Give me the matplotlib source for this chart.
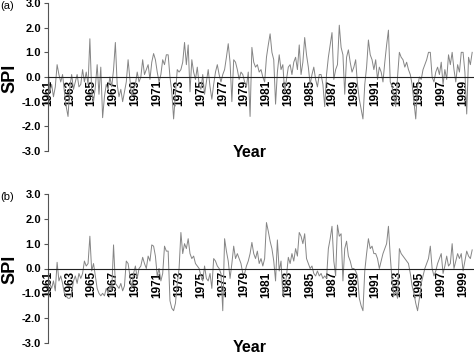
import numpy as np
import matplotlib
matplotlib.use("Agg")
import matplotlib.pyplot as plt

plt.rcParams['font.family'] = ['Liberation Sans', 'DejaVu Sans']

years = list(range(1961, 2000))
tick_years = list(range(1961, 2000, 2))
y_ticks = [3.0, 2.0, 1.0, 0.0, -1.0, -2.0, -3.0]

# SPI values, 6 per year (bi-monthly), panel (a)
spi_a = [
    0.4, -0.6, -0.3, -0.8, -0.4, 0.5,      # 1961
    0.1, -0.2, 0.1, -0.6, -1.2, -1.6,      # 1962
    -0.4, 0.1, -0.5, -0.2, 0.1, -0.4,      # 1963
    -0.3, 0.3, -0.2, 0.2, -0.3, 1.55,      # 1964
    -0.6, -1.0, -0.4, 0.5, -0.7, 0.4,      # 1965
    -1.65, -0.8, -0.3, -0.5, 0.0, -0.4,    # 1966
    0.3, 1.4, -0.3, -0.8, -0.5, -1.0,      # 1967
    -0.6, -0.2, 0.7, -0.1, -0.8, -0.5,     # 1968
    -0.3, 0.2, -0.2, 0.0, 0.7, 0.1,        # 1969
    0.3, 0.5, -0.1, 0.6, 0.95, 0.7,        # 1970
    0.2, -0.2, 0.1, 0.7, 0.5, 0.9,         # 1971
    0.9, 0.0, -0.6, -1.7, -0.7, 0.3,       # 1972
    0.2, 0.3, 0.6, 1.4, 0.5, 1.3,          # 1973
    -0.6, 0.7, 0.2, -0.1, 0.4, -0.3,       # 1974
    -0.5, 0.1, -0.7, -0.2, 0.3, -0.4,      # 1975
    -0.9, -0.3, 0.2, 0.5, 0.1, -0.2,       # 1976
    0.1, 0.3, 0.8, 1.35, 0.6, -1.0,        # 1977
    0.7, 0.6, 0.3, -0.1, 0.2, 0.1,         # 1978
    -0.2, -0.4, 0.2, -1.6, 1.2, 0.6,       # 1979
    0.4, 0.5, 0.2, 0.3, 0.0, -0.2,         # 1980
    0.8, 1.3, 1.75, 1.0, 0.7, -1.1,        # 1981
    0.2, 0.9, 0.3, 0.5, -0.6, -0.1,        # 1982
    0.4, 0.5, 0.1, 0.6, 0.8, 0.3,          # 1983
    1.3, 0.1, 0.6, 1.6, 0.9, 0.4,          # 1984
    -0.3, 0.1, 0.4, -0.1, -0.4, 0.1,       # 1985
    0.1, -0.3, -1.2, 0.1, 0.8, 1.3,        # 1986
    1.8, -0.1, 0.3, 0.5, 2.1, 1.2,         # 1987
    0.9, -0.7, 0.8, 1.1, 0.6, 0.2,         # 1988
    0.4, 0.7, -0.3, -0.9, -1.3, -1.7,      # 1989
    -0.3, 0.4, 1.5, 0.9, 0.7, 0.3,         # 1990
    0.7, -0.1, 0.4, 0.2, -0.2, 0.6,        # 1991
    1.3, 1.9, -0.2, -0.4, -0.8, -1.2,      # 1992
    0.0, 1.0, 0.8, 0.7, 0.4, 0.6,          # 1993
    0.3, 0.1, -0.3, -1.0, -1.7, -0.4,      # 1994
    0.0, -0.1, 0.3, 0.5, 0.7, 1.0,         # 1995
    1.0, 0.0, -0.2, 0.2, 0.4, 0.1,         # 1996
    0.6, -0.3, 0.3, -0.1, 0.9, 0.5,        # 1997
    1.0, 0.3, -0.2, 0.5, 0.2, 1.0,         # 1998
    1.0, 0.2, -1.5, 0.8, 0.5, 1.0,         # 1999
]

# SPI values, 6 per year (bi-monthly), panel (b)
spi_b = [
    -0.4, -0.6, -0.8, -0.5, -0.9, 0.25,    # 1961
    -0.5, -0.3, -0.6, -1.0, -1.1, -1.2,    # 1962
    -1.2, -1.0, -0.5, -0.3, -0.6, -0.2,    # 1963
    -0.4, -0.2, 0.3, 0.1, 0.2, 1.3,        # 1964
    -0.1, 0.2, -0.3, -0.8, -1.0, -1.1,     # 1965
    -1.0, -1.1, -0.8, -1.0, -0.7, -0.9,    # 1966
    0.95, -0.6, -0.7, -0.8, -0.6, -0.9,    # 1967
    -0.7, 0.3, 0.2, -0.3, -0.8, -0.2,      # 1968
    0.1, -0.4, 0.0, 0.1, 0.45, 0.2,        # 1969
    0.0, 0.5, 0.3, 0.95, 0.9, 0.5,         # 1970
    -0.3, 0.0, -0.5, -0.2, 0.9, 0.7,       # 1971
    0.7, -1.3, -1.6, -1.7, -1.4, -0.6,     # 1972
    0.0, 1.45, 0.6, 1.0, 0.8, 1.2,         # 1973
    0.6, 0.4, 0.5, 0.2, 0.1, 0.0,          # 1974
    -0.3, -0.5, 0.1, -0.4, -0.5, -0.2,     # 1975
    -0.8, 0.4, 0.3, 0.1, 0.0, -0.2,        # 1976
    -1.7, 1.2, 0.7, 0.3, -0.4, 0.2,        # 1977
    0.9, 0.4, 0.6, 0.4, 0.2, -0.2,         # 1978
    -0.2, 0.1, 0.3, 0.6, 1.05, 0.6,        # 1979
    0.4, 0.7, 0.2, 0.4, 0.1, 0.4,          # 1980
    1.85, 1.5, 1.1, 0.8, 0.3, -0.5,        # 1981
    1.15, -0.1, 0.3, -1.1, -0.8, -0.3,     # 1982
    0.45, 0.2, 0.6, 0.3, 0.8, 0.5,         # 1983
    1.45, 1.3, 1.0, 1.4, 0.4, 0.2,         # 1984
    0.0, 0.1, -0.2, -0.3, -0.1, -0.3,      # 1985
    -0.2, -0.4, -0.3, -0.4, 0.8, 1.2,      # 1986
    1.7, 0.3, -0.3, 1.75, 1.3, 1.4,        # 1987
    -0.5, 0.8, 1.1, 0.5, 0.3, 0.0,         # 1988
    0.0, -0.1, -0.3, -1.2, -1.5, -1.7,     # 1989
    -0.1, 0.6, 1.2, 0.8, 0.9, 0.6,         # 1990
    0.6, 0.4, 0.0, 0.3, 0.6, 0.8,          # 1991
    1.0, 1.7, 0.5, -0.5, -1.1, -0.9,       # 1992
    -1.2, 0.8, 0.6, 0.5, 0.4, 0.3,         # 1993
    0.2, -0.2, -0.7, -1.0, -1.4, -1.7,     # 1994
    -1.2, -0.6, -0.3, 0.0, 0.2, 0.4,       # 1995
    0.9, 0.0, -0.3, -0.1, 0.2, 0.4,        # 1996
    0.6, -0.2, 0.1, 0.5, 0.1, 0.2,         # 1997
    1.0, 0.0, 0.3, 0.6, 0.4, 0.6,          # 1998
    -0.1, 0.3, 0.7, 0.5, 0.4, 0.75,        # 1999
]

W, H = 474, 353
fig = plt.figure(figsize=(W / 100, H / 100), dpi=100)

t = 1961 + np.arange(len(spi_a)) / 6.0


def make_panel(top_px, bot_px, values, letter, year_y_px):
    ax = fig.add_axes([48 / W, 1 - bot_px / H, 1 - 48 / W, (bot_px - top_px) / H])
    ax.plot(t, values, color='#858585', lw=0.7)
    ax.set_xlim(1961, 2000)
    ax.set_ylim(-3, 3)
    ax.set_yticks(y_ticks)
    ax.set_yticklabels([f"{v:.1f}" for v in y_ticks], fontsize=8, fontweight='bold')
    ax.tick_params(axis='y', length=3, width=0.8, color='#555555', pad=2)
    ax.spines['top'].set_visible(False)
    ax.spines['right'].set_visible(False)
    ax.spines['left'].set_color('#555555')
    ax.spines['left'].set_linewidth(0.8)
    ax.spines['bottom'].set_position(('data', 0))
    ax.spines['bottom'].set_color('#222222')
    ax.spines['bottom'].set_linewidth(0.8)
    ax.set_xticks(tick_years)
    ax.set_xticklabels([str(y) for y in tick_years], rotation=90, fontsize=8.5,
                       fontweight='bold')
    ax.tick_params(axis='x', length=0, pad=2)
    ax.patch.set_visible(False)
    mid = (top_px + bot_px) / 2
    fig.text(10 / W, 1 - (mid + 1) / H, "SPI", rotation=90, fontsize=13,
             fontweight='bold', ha='center', va='center')
    fig.text(250 / W, 1 - year_y_px / H, "Year", fontsize=11.5, fontweight='bold',
             ha='center', va='center')
    fig.text(0, 1 - (top_px + 3) / H, letter, fontsize=8, ha='left', va='center')
    return ax


make_panel(3, 151, spi_a, "(a)", 152)
make_panel(194, 343, spi_b, "(b)", 347)

fig.savefig("out.png", dpi=100)
